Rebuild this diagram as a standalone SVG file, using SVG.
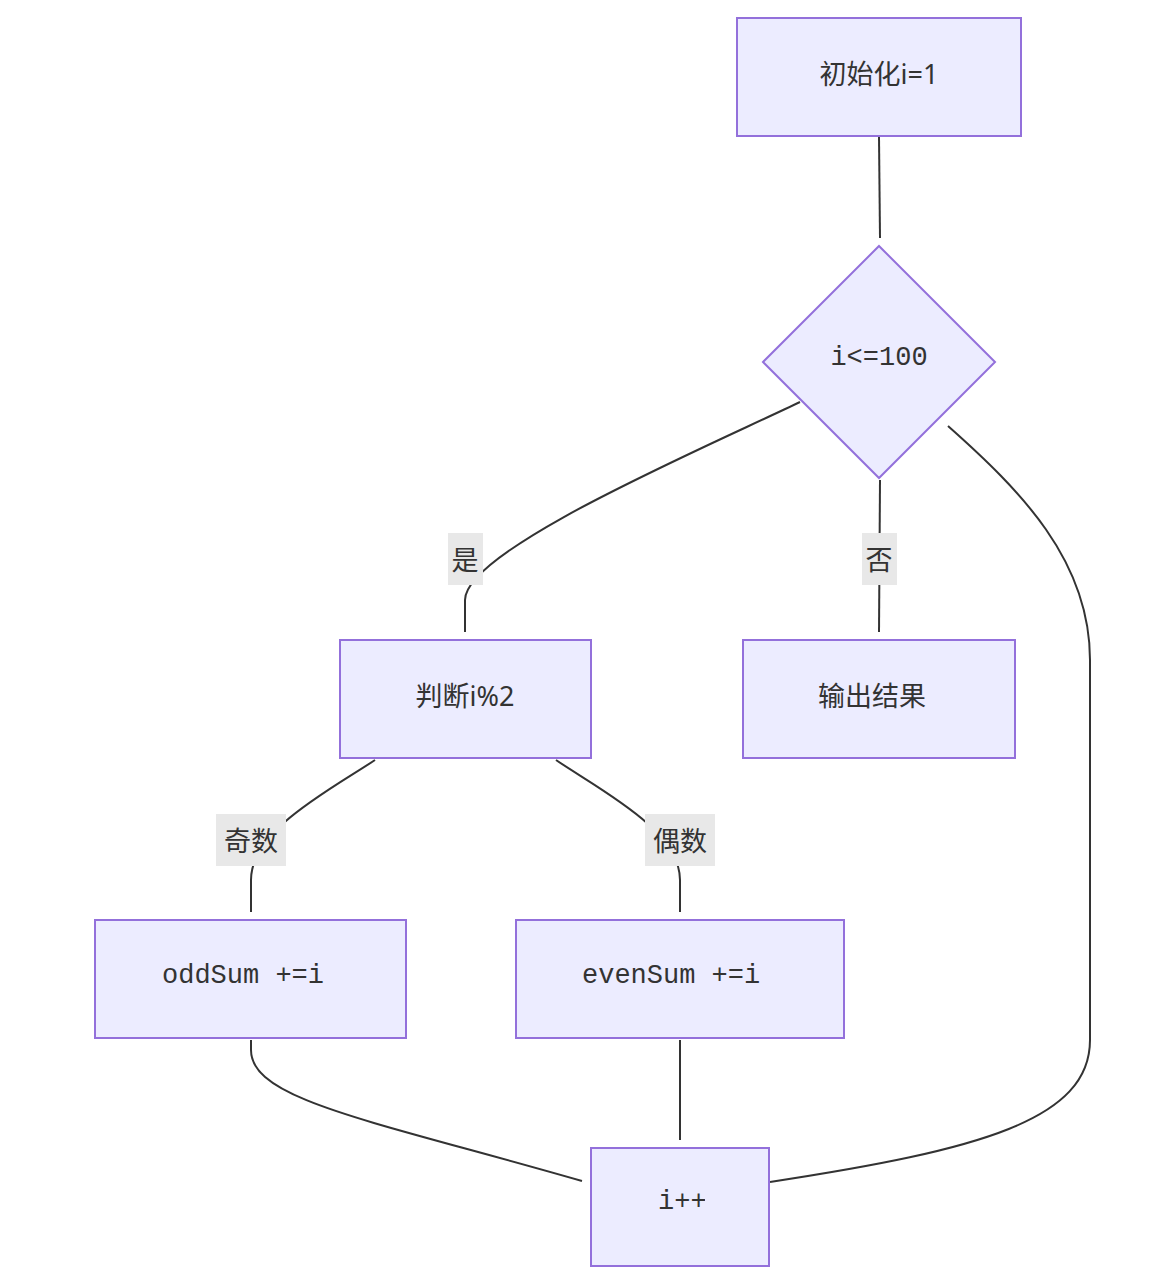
<svg xmlns="http://www.w3.org/2000/svg" width="1170" height="1280" viewBox="0 0 1170 1280">
<style>
.n{fill:#ECECFF;stroke:#9370DB;stroke-width:2}
.t{font-family:"Liberation Mono","Noto Sans CJK SC",monospace;font-size:27px;fill:#333;text-anchor:middle;dominant-baseline:central}
.c{font-family:"Noto Sans","Noto Sans CJK SC",sans-serif;font-size:27px;fill:#333;text-anchor:middle;dominant-baseline:central}
.e{fill:none;stroke:#333;stroke-width:2}
.lb{fill:#e8e8e8}
</style>
<defs>
<clipPath id="k1"><rect x="95" y="920" width="248" height="118"/></clipPath>
<clipPath id="k2"><rect x="516" y="920" width="264" height="118"/></clipPath>
<clipPath id="k3"><rect x="591" y="1148" width="114" height="118"/></clipPath>
</defs>
<g id="edges">
<path class="e" d="M879,137 L880,238"/>
<path class="e" d="M800,402 C700,450 465,550 465,600 L465,632"/>
<path class="e" d="M880,480 L879,632"/>
<path class="e" d="M948,426 C1020,490 1090,560 1090,660 L1090,1040 C1090,1120 980,1150 770,1182"/>
<path class="e" d="M375,760 C330,790 251,830 251,880 L251,912"/>
<path class="e" d="M556,760 C600,790 680,830 680,880 L680,912"/>
<path class="e" d="M251,1040 L251,1050 C251,1100 370,1120 582,1181"/>
<path class="e" d="M680,1040 L680,1140"/>
<rect class="lb" x="448" y="533" width="35" height="52"/><text class="c" x="465" y="559">是</text>
<rect class="lb" x="862" y="533" width="35" height="52"/><text class="c" x="879" y="559">否</text>
<rect class="lb" x="216" y="814" width="70" height="52"/><text class="c" x="251" y="840">奇数</text>
<rect class="lb" x="645" y="814" width="70" height="52"/><text class="c" x="680" y="840">偶数</text>
</g>
<g id="init"><rect class="n" x="737" y="18" width="284" height="118"/><text class="c" x="879" y="73">初始化i=1</text></g>
<g id="cond"><polygon class="n" points="879,246 995,362 879,478 763,362"/><text class="t" x="879" y="358">i&lt;=100</text></g>
<g id="judge"><rect class="n" x="340" y="640" width="251" height="118"/><text class="c" x="465" y="695">判断i%2</text></g>
<g id="out"><rect class="n" x="743" y="640" width="272" height="118"/><text class="c" x="872" y="695">输出结果</text></g>
<g id="odd"><rect class="n" x="95" y="920" width="311" height="118"/><text class="t" x="162" y="976" style="text-anchor:start" clip-path="url(#k1)">oddSum +=i</text></g>
<g id="even"><rect class="n" x="516" y="920" width="328" height="118"/><text class="t" x="582" y="976" style="text-anchor:start" clip-path="url(#k2)">evenSum +=i</text></g>
<g id="inc"><rect class="n" x="591" y="1148" width="178" height="118"/><text class="t" x="658" y="1202" style="text-anchor:start" clip-path="url(#k3)">i++</text></g>
</svg>
